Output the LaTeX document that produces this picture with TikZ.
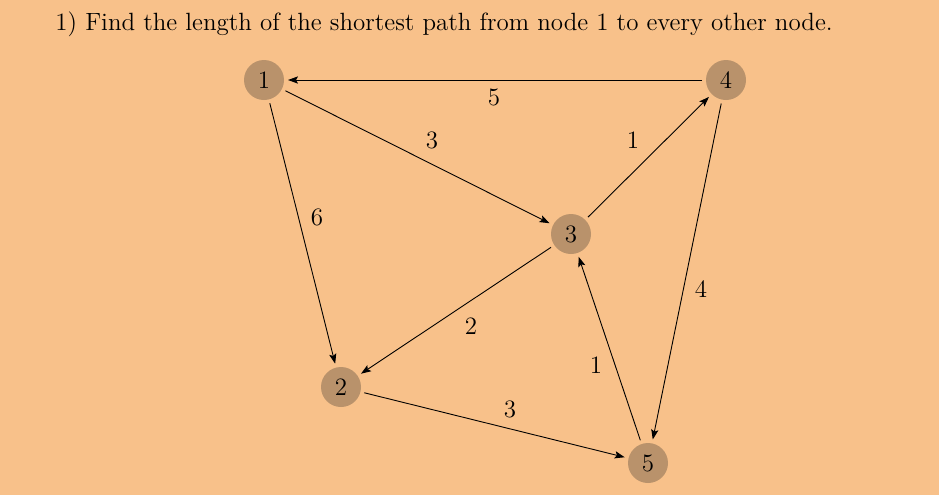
\documentclass[tikz,border=0pt]{standalone}
\usetikzlibrary{arrows.meta}
\definecolor{bg}{HTML}{F8C18A}
\definecolor{nd}{HTML}{B9926B}
\begin{document}
\begin{tikzpicture}[x=0.5pt,y=-0.5pt,
  vert/.style={circle,fill=nd,minimum size=20pt,inner sep=0pt,outer sep=2pt,font=\fontsize{12.5}{14}\selectfont},
  edge/.style={-{Stealth[length=5pt,width=3.6pt,inset=1pt]},line width=0.45pt},
  lbl/.style={font=\fontsize{12.5}{14}\selectfont}]
\fill[bg] (0,0) rectangle (939,495);
\useasboundingbox (0,0) rectangle (939,495);
\node[anchor=base west,inner sep=0pt,font=\fontsize{12.48}{14}\selectfont] (title) at (55,30) {1) Find the length of the shortest path from node 1 to every other node.};
\node[vert] (n1) at (264,80) {1};
\node[vert] (n4) at (726,80) {4};
\node[vert] (n3) at (571,234) {3};
\node[vert] (n2) at (341,387) {2};
\node[vert] (n5) at (648,463) {5};
\draw[edge] (n4) -- (n1);
\draw[edge] (n1) -- (n3);
\draw[edge] (n3) -- (n4);
\draw[edge] (n1) -- (n2);
\draw[edge] (n4) -- (n5);
\draw[edge] (n3) -- (n2);
\draw[edge] (n5) -- (n3);
\draw[edge] (n2) -- (n5);
\node[lbl] (l41) at (494,97) {5};
\node[lbl] (l13) at (432,140) {3};
\node[lbl] (l34) at (633,140) {1};
\node[lbl] (l12) at (317,217) {6};
\node[lbl] (l45) at (701,289) {4};
\node[lbl] (l32) at (471,326) {2};
\node[lbl] (l53) at (596,365) {1};
\node[lbl] (l25) at (510,409) {3};
\end{tikzpicture}
\end{document}
